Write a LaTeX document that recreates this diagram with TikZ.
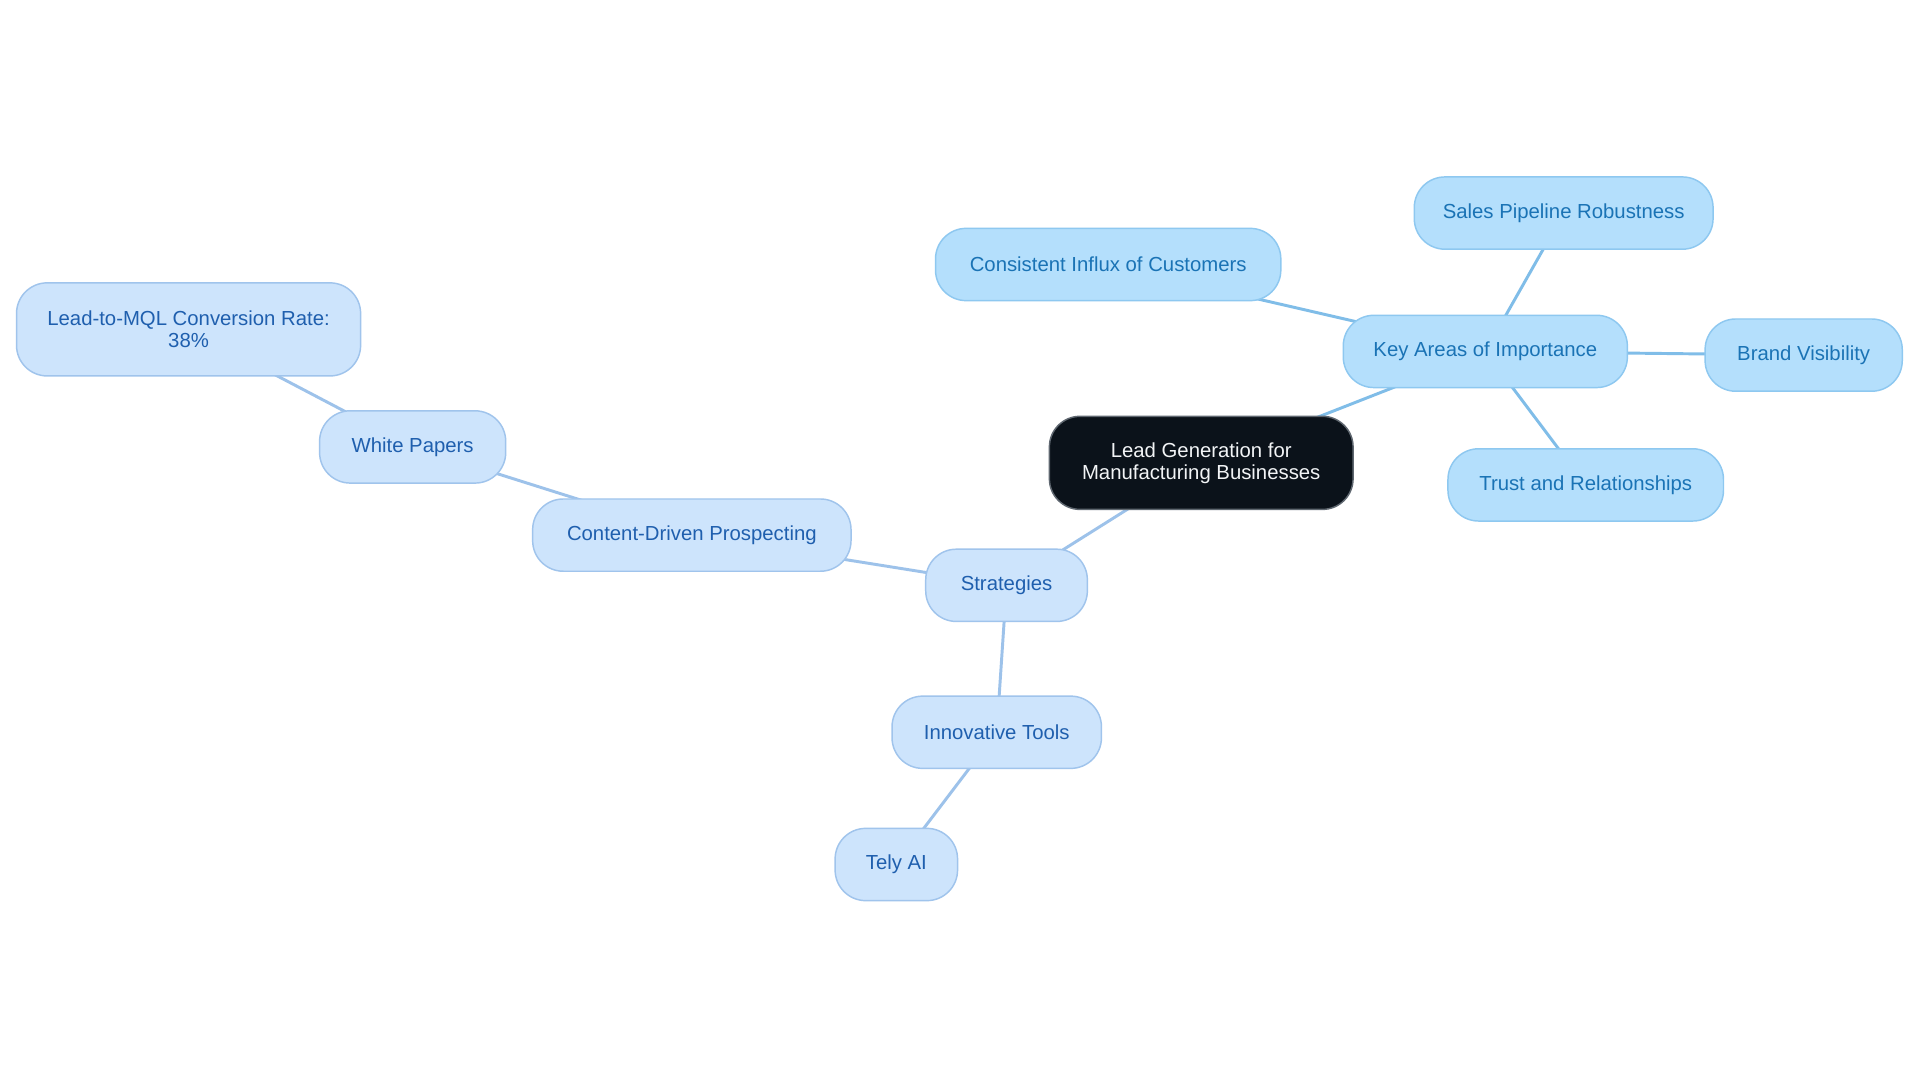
\documentclass[tikz,border=0pt]{standalone}
\usepackage{fontspec}
\setmainfont{Liberation Sans}
\usetikzlibrary{backgrounds}
\definecolor{lfill}{HTML}{CDE4FC}
\definecolor{ldraw}{HTML}{A0C4EC}
\definecolor{ltext}{HTML}{1F5FAE}
\definecolor{lline}{HTML}{9DC2EA}
\definecolor{rfill}{HTML}{B4DFFC}
\definecolor{rdraw}{HTML}{8EC8F0}
\definecolor{rtext}{HTML}{1A73B5}
\definecolor{rline}{HTML}{80BDE8}
\definecolor{cfill}{HTML}{0B121A}
\definecolor{cdraw}{HTML}{5F6770}
\definecolor{ctext}{HTML}{F2F4F6}
\tikzset{
  base/.style={rounded corners=12.5pt, line width=0.6pt, align=center, inner sep=0pt,
    font=\fontsize{8.3pt}{9pt}\selectfont, minimum height=29.5pt},
  lnode/.style={base, fill=lfill, draw=ldraw, text=ltext},
  rnode/.style={base, fill=rfill, draw=rdraw, text=rtext},
  cnode/.style={base, fill=cfill, draw=cdraw, text=ctext, minimum height=38pt},
  ledge/.style={draw=lline, line width=1.2pt},
  redge/.style={draw=rline, line width=1.2pt},
}
\begin{document}
\begin{tikzpicture}[x=0.5pt, y=-0.5pt]
\useasboundingbox (0,0) rectangle (1568,884);
\node[cnode, minimum width=124pt] (central) at (981,378) {Lead Generation for\\Manufacturing Businesses};
\node[lnode, minimum width=140.5pt, minimum height=38pt] (lead) at (154,269) {Lead-to-MQL Conversion Rate:\\38\%};
\node[lnode, minimum width=76pt] (white) at (337,365) {White Papers};
\node[lnode, minimum width=130pt] (content) at (565,437) {Content-Driven Prospecting};
\node[lnode, minimum width=66pt] (strat) at (822,478) {Strategies};
\node[lnode, minimum width=85.5pt] (innov) at (814,598) {Innovative Tools};
\node[lnode, minimum width=50pt] (tely) at (732,706) {Tely AI};
\node[rnode, minimum width=116pt] (key) at (1213,287) {Key Areas of Importance};
\node[rnode, minimum width=141pt] (consist) at (905,216) {Consistent Influx of Customers};
\node[rnode, minimum width=122pt] (sales) at (1277,174) {Sales Pipeline Robustness};
\node[rnode, minimum width=80.5pt] (brand) at (1473,290) {Brand Visibility};
\node[rnode, minimum width=112.5pt] (trust) at (1295,396) {Trust and Relationships};
\begin{scope}[on background layer]
\fill[white] (0,0) rectangle (1568,884);
\draw[ledge] (central.center) -- (strat.center);
\draw[ledge] (strat.center) -- (content.center);
\draw[ledge] (content.center) -- (white.center);
\draw[ledge] (white.center) -- (lead.center);
\draw[ledge] (strat.center) -- (innov.center);
\draw[ledge] (innov.center) -- (tely.center);
\draw[redge] (central.center) -- (key.center);
\draw[redge] (key.center) -- (consist.center);
\draw[redge] (key.center) -- (sales.center);
\draw[redge] (key.center) -- (brand.center);
\draw[redge] (key.center) -- (trust.center);
\end{scope}
\end{tikzpicture}
\end{document}
